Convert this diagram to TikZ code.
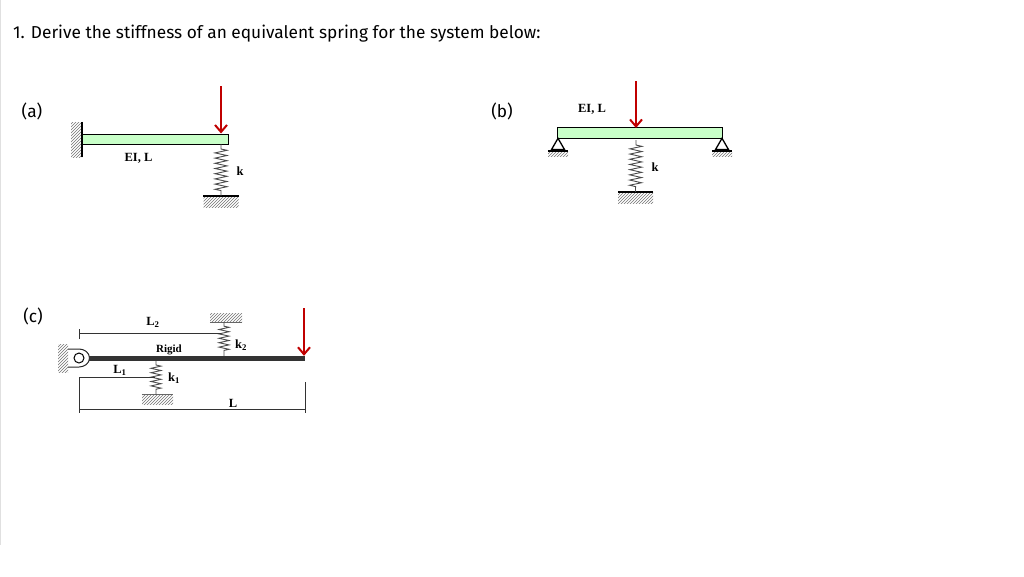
\documentclass[tikz,border=0pt]{standalone}
\usepackage{fontspec}
\setmainfont{Liberation Serif}
\newfontfamily\handfont{Fira Sans}
\usetikzlibrary{arrows.meta}
\usetikzlibrary{patterns}
\usetikzlibrary{decorations.pathmorphing}
\usetikzlibrary{shapes.geometric}
\tikzset{>=latex}
\definecolor{beamgreen}{RGB}{200,255,200}
\definecolor{loadred}{RGB}{192,0,0}
\tikzstyle{beam} = [draw = black, line width = 0.9pt, fill = beamgreen, inner sep = 0, anchor = north west]
\tikzstyle{hatch} = [draw = none, inner sep = 0, pattern = north east lines, pattern color = black!55]
\tikzstyle{load} = [-{Straight Barb[length=7pt, width=12pt, line width=2pt]}, draw = loadred, line width = 1.6pt]
\tikzstyle{spring} = [draw = black!70, line width = 0.9pt, decorate, decoration = {zigzag, segment length = 5.2pt, amplitude = 6pt, pre length = 5pt, post length = 4pt}]
\tikzstyle{smallspring} = [spring, decoration = {zigzag, segment length = 4.4pt, amplitude = 5pt, pre length = 4pt, post length = 4pt}]
\tikzstyle{dimline} = [draw = black!80, line width = 0.6pt]
\tikzstyle{plate} = [draw = black, line width = 1.6pt]
\tikzstyle{lab} = [draw = none, inner sep = 0, font = \bfseries\fontsize{12.5}{12.5}\selectfont]
\tikzstyle{hand} = [draw = none, inner sep = 0, font = \handfont\fontsize{17.3}{17.3}\selectfont]
\tikzstyle{pinned} = [draw = black, line width = 1.3pt, regular polygon, regular polygon sides = 3, minimum size = 15pt, inner sep = 0, anchor = north]
\begin{document}
\begin{tikzpicture}[x = 1pt, y = -1pt]
\useasboundingbox (0, 0) rectangle (1024, 576);
\coordinate (edgeT) at (0.5, 0);
\coordinate (edgeB) at (0.5, 545);
\draw [draw = black!12, line width = 1pt] (edgeT) to (edgeB);
\node [hand, anchor = west] (title) at (13, 34) {1. Derive the stiffness of an equivalent spring for the system below:};
\node [hand] (la) at (32, 111) {(a)};
\node [hand] (lb) at (502, 111) {(b)};
\node [hand] (lc) at (33, 316) {(c)};

\node [hatch, minimum width = 11pt, minimum height = 35pt] (wallA) at (76.5, 139.5) {};
\draw [plate] (wallA.north east) to (wallA.south east);
\node [beam, minimum width = 146pt, minimum height = 10pt] (beamA) at (82, 134) {};
\coordinate (loadA) at (221, 86);
\coordinate (hitA) at (221, 133.5);
\draw [load] (loadA) to (hitA);
\node [hatch, minimum width = 35pt, minimum height = 11pt] (groundA) at (221, 201.5) {};
\draw [plate] (groundA.north west) to (groundA.north east);
\coordinate (topA) at (221, 144);
\draw [spring] (topA) to (groundA.north);
\node [lab] (eiA) at (138.5, 158) {EI, L};
\node [lab] (kA) at (240, 171) {k};

\node [beam, minimum width = 165pt, minimum height = 11pt] (beamB) at (557, 127) {};
\coordinate (loadB) at (636, 81);
\coordinate (hitB) at (636, 128);
\draw [load] (loadB) to (hitB);
\node [hatch, minimum width = 35pt, minimum height = 11pt] (groundB) at (635.5, 197.5) {};
\draw [plate] (groundB.north west) to (groundB.north east);
\coordinate (topB) at (636, 140);
\draw [spring] (topB) to (groundB.north);
\node [lab] (eiB) at (592, 109) {EI, L};
\node [lab] (kB) at (655, 167) {k};
\node [pinned] (pinL) at (558, 137) {};
\node [pinned] (pinR) at (722, 137) {};
\node [hatch, minimum width = 20pt, minimum height = 5pt] (baseL) at (558, 153.5) {};
\node [hatch, minimum width = 20pt, minimum height = 5pt] (baseR) at (722, 153.5) {};
\draw [plate] (baseL.north west) to (baseL.north east);
\draw [plate] (baseR.north west) to (baseR.north east);

\node [hatch, minimum width = 10pt, minimum height = 28pt] (wallC) at (63, 358) {};
\node [draw = black, line width = 1pt, circle, minimum size = 10pt, inner sep = 0] (pinC) at (79, 358) {};
\coordinate (lugT) at (68, 349);
\coordinate (lugB) at (68, 367);
\coordinate (lugM) at (89.5, 358);
\draw [draw = black!85, line width = 1pt] (lugT) to (79, 349) to [out = 0, in = 90] (lugM) to [out = -90, in = 0] (79, 367) to (lugB);
\node [draw = none, fill = black!80, inner sep = 0, minimum width = 216pt, minimum height = 5pt, anchor = west] (bar) at (89, 358.5) {};
\coordinate (loadC) at (304, 308);
\draw [load] (loadC) to (bar.north east -| loadC);

\node [hatch, minimum width = 32pt, minimum height = 9pt] (topC) at (226, 317.5) {};
\node [hatch, minimum width = 31pt, minimum height = 9pt] (botC) at (157.5, 399.5) {};
\coordinate (footT) at (224, 356);
\coordinate (footB) at (156, 361);
\draw [draw = black!60, line width = 0.8pt] (topC.south west) to (topC.south east);
\draw [draw = black!60, line width = 0.8pt] (botC.north west) to (botC.north east);
\draw [smallspring] (topC.south -| footT) to (footT);
\draw [smallspring] (footB) to (botC.north -| footB);

\coordinate (tickA) at (79, 329);
\coordinate (tickB) at (79, 339);
\coordinate (endL2) at (221, 333.5);
\coordinate (tickC) at (79, 377);
\coordinate (tickD) at (79, 413);
\coordinate (endL1) at (155, 377);
\coordinate (tickE) at (305, 382);
\coordinate (tickF) at (305, 413);
\draw [dimline] (tickA) to (tickB);
\draw [dimline] (tickA |- endL2) to (endL2);
\draw [dimline] (tickC) to (tickD);
\draw [dimline] (tickC) to (endL1);
\draw [dimline] (tickE) to (tickF);
\draw [dimline] (79, 409.5) to (305, 409.5);

\node [lab] (L2) at (153, 322) {L$_{\mathbf 2}$};
\node [lab] (k2) at (241, 345) {k$_{\mathbf 2}$};
\node [lab, font = \bfseries\fontsize{11}{11}\selectfont] (rigid) at (169, 350) {Rigid};
\node [lab] (L1) at (120, 370) {L$_{\mathbf 1}$};
\node [lab] (k1) at (174, 378) {k$_{\mathbf 1}$};
\node [lab] (Ltot) at (233, 403) {L};
\end{tikzpicture}
\end{document}
